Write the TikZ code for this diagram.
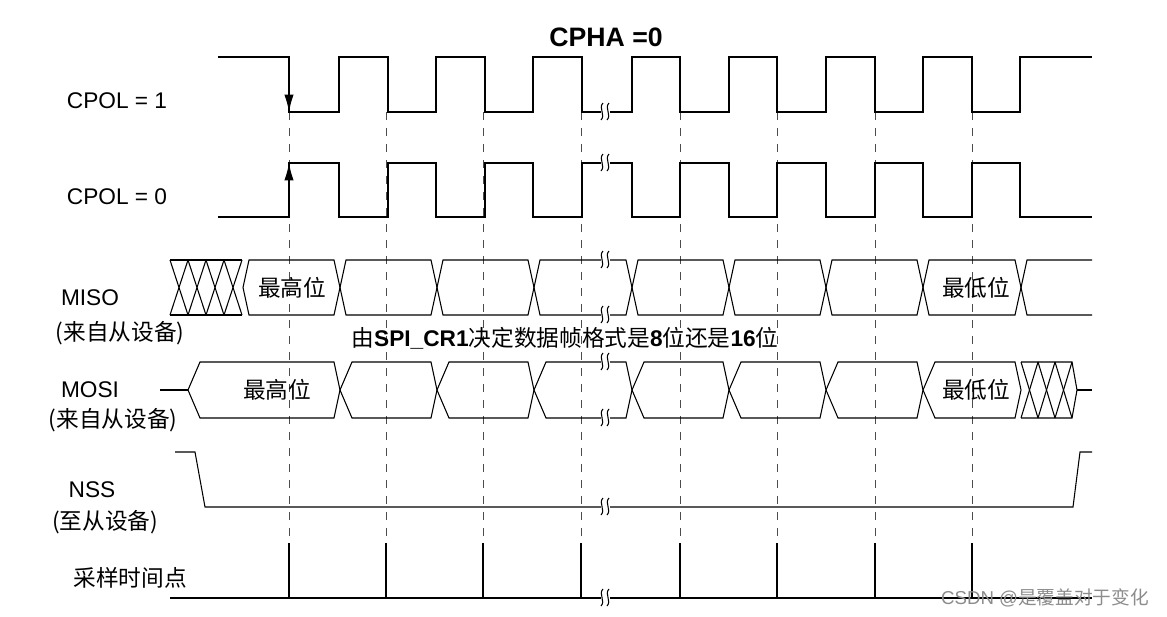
\documentclass[tikz,border=0pt]{standalone}
\usepackage{fontspec}
\usetikzlibrary{arrows.meta}
\setmainfont{Liberation Sans}
\newfontfamily\cjk{Noto Sans CJK SC}
\newcommand\latb[1]{{\rmfamily\bfseries #1}}
\begin{document}
\begin{tikzpicture}[x=0.75pt,y=-0.75pt,
  wave/.style={line width=1.2pt,line join=miter},
  thin/.style={line width=0.8pt},
  grid/.style={line width=0.7pt,dash pattern=on 6pt off 6pt,black!70},
  lbl/.style={font=\fontsize{17}{19}\selectfont,anchor=center,inner sep=0pt}]
\useasboundingbox (0,0) rectangle (1167,617);
% dashed guides
\foreach \x in {289,386,483,581,680,777,875,972}
  \draw[grid] (\x,112) -- (\x,598);
% CPOL=1
\draw[wave] (218,57) -- (289,57) -- (289,112)
  \foreach \a/\b in {339/388,436/485,533/582,632/680,729/777,826/875,923/972} { -- (\a,112) -- (\a,57) -- (\b,57) -- (\b,112)}
  -- (1020,112) -- (1020,57) -- (1092,57);
\draw[-{Latex[length=13pt,width=7pt]},line width=1pt] (289,60) -- (289,112);
% CPOL=0
\draw[wave] (218,217) -- (289,217) -- (289,163)
  \foreach \a/\b in {339/388,436/485,533/582,632/680,729/777,826/875,923/972} { -- (\a,163) -- (\a,217) -- (\b,217) -- (\b,163)}
  -- (1020,163) -- (1020,217) -- (1092,217);
\draw[-{Latex[length=13pt,width=7pt]},line width=1pt] (289,214) -- (289,163);
% MISO
\foreach \k in {0,...,3} {
  \draw[thin] ({170+18*\k},260) -- ({188+18*\k},315);
  \draw[thin] ({170+18*\k},315) -- ({188+18*\k},260);}
\draw[thin] (170,260) -- (242,260) (170,315) -- (242,315);
\foreach \a/\b in {243/340,340/437,437/534,534/632,632/729,729/826,826/923,923/1021}
  \draw[thin] (\a,287.5) -- (\a+6,260) -- (\b-6,260) -- (\b,287.5) -- (\b-6,315) -- (\a+6,315) -- cycle;
\draw[thin] (1092,260) -- (1027,260) -- (1021,287.5) -- (1027,315) -- (1092,315);
% MOSI
\draw[thin] (160,390) -- (188,390);
\draw[thin] (1092,390) -- (1077,390);
\foreach \a/\b in {188/340,340/437,437/534,534/632,632/729,729/826,826/923,923/1021}
  \draw[thin] (\a,390) -- (\a+12,362) -- (\b-6,362) -- (\b,390) -- (\b-6,418) -- (\a+12,418) -- cycle;
\foreach \k in {0,...,2} {
  \draw[thin] ({1021+17*\k},362) -- ({1038+17*\k},418);
  \draw[thin] ({1021+17*\k},418) -- ({1038+17*\k},362);}
\draw[thin] (1021,362) -- (1072,362) -- (1077,390) -- (1072,418) -- (1021,418);
% NSS
\draw[thin] (175,452) -- (195,452) -- (205,507) -- (1073,507) -- (1080,452) -- (1092,452);
% sampling
\draw[wave] (170,598) -- (1092,598);
\foreach \x in {289,386,483,581,680,777,875,972}
  \draw[wave] (\x,543) -- (\x,598);
% break marks
\foreach \y in {112,163,260,315,362,418,507,598} {
  \fill[white] (601,\y-3) rectangle (610,\y+3);
  \draw[thin] (603,\y-9) .. controls (598,\y-4) and (606,\y+3) .. (601,\y+8);
  \draw[thin] (609,\y-9) .. controls (604,\y-4) and (612,\y+3) .. (607,\y+8);}
% labels
\node[font=\bfseries\fontsize{20}{22}\selectfont] (t) at (606,37) {CPHA =0};
\node[lbl] (c1) at (117,101) {CPOL = 1};
\node[lbl] (c0) at (117,197) {CPOL = 0};
\node[lbl] (mi) at (90,298) {MISO};
\node[lbl] (mi2) at (120,333) {\cjk (来自从设备)};
\node[lbl] (mo) at (90,390) {MOSI};
\node[lbl] (mo2) at (113,420) {\cjk (来自从设备)};
\node[lbl] (ns) at (92,490) {NSS};
\node[lbl] (ns2) at (105,522) {\cjk (至从设备)};
\node[lbl] (sp) at (130,578) {\cjk 采样时间点};
\node[lbl] (fmt) at (565,338) {\cjk 由\latb{SPI\_CR1}决定数据帧格式是\latb{8}位还是\latb{16}位};
\node[lbl] (m1) at (292,288) {\cjk 最高位};
\node[lbl] (m2) at (976,288) {\cjk 最低位};
\node[lbl] (o1) at (277,390) {\cjk 最高位};
\node[lbl] (o2) at (976,390) {\cjk 最低位};
\node[font=\fontsize{14}{16}\selectfont,text=black!45] (wm) at (1045,598) {CSDN @\cjk 是覆盖对于变化};
\end{tikzpicture}
\end{document}
